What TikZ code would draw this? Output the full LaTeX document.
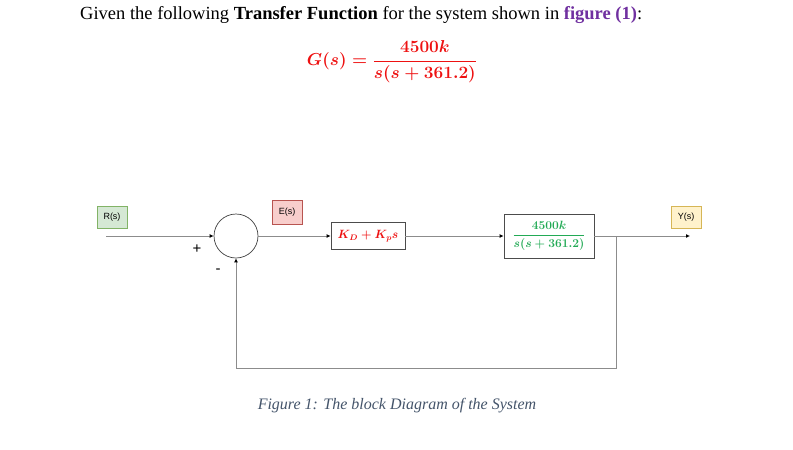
\documentclass[tikz,border=0pt]{standalone}
\usepackage{fontspec}
\usepackage{amsmath}
\setmainfont{Liberation Serif}
\setsansfont{Liberation Sans}
\usetikzlibrary{arrows.meta}
\definecolor{redt}{HTML}{EE1111}
\definecolor{greent}{HTML}{22AA55}
\definecolor{purp}{HTML}{7030A0}
\definecolor{capc}{HTML}{44546A}
\tikzset{
 lbl/.style={draw, minimum width=30pt, minimum height=22pt, font=\sffamily\fontsize{9}{10}\selectfont, inner sep=1pt},
 blk/.style={draw=black!70, fill=white, line width=0.8pt, inner sep=2pt},
 wire/.style={draw=black!45, line width=1pt},
 arr/.style={wire, -{Latex[length=4pt,width=4pt,black]}}
}
\begin{document}
\begin{tikzpicture}[x=1pt,y=-1pt]
\useasboundingbox (0,0) rectangle (793,450);
\node[anchor=west, font=\fontsize{18.5}{20}\selectfont, inner sep=0pt] (title) at (80,15) {Given the following \textbf{Transfer Function} for the system shown in \textcolor{purp}{\textbf{figure (1)}}:};
\node[font=\fontsize{18.5}{20}\selectfont, text=redt] (gs) at (392,62) {$\boldsymbol{G(s)=\dfrac{4500k}{s(s+361.2)}}$};
\node[lbl, fill={rgb,255:red,213;green,232;blue,212}, draw={rgb,255:red,130;green,179;blue,102}] (R) at (112,217) {R(s)};
\node[lbl, fill={rgb,255:red,248;green,206;blue,204}, draw={rgb,255:red,184;green,84;blue,80}, minimum height=24pt] (E) at (287,212) {E(s)};
\node[lbl, fill={rgb,255:red,255;green,242;blue,204}, draw={rgb,255:red,214;green,182;blue,86}] (Y) at (686,217) {Y(s)};
\node[draw=black!75, circle, minimum size=44pt, inner sep=0pt, line width=0.7pt] (sum) at (236,236) {};
\node[blk, minimum width=74pt, minimum height=27pt, text=redt, font=\fontsize{12}{14}\selectfont, inner sep=0pt] (C) at (368,236) {$\boldsymbol{K_D+K_ps}$};
\node[blk, minimum width=90pt, minimum height=44pt, text=greent, font=\fontsize{12.5}{14}\selectfont, inner sep=0pt] (P) at (549,236) {$\boldsymbol{\dfrac{4500k}{s(s+361.2)}}$};
\coordinate (in) at (106,236);
\coordinate (out) at (690,236);
\coordinate (br) at (616,236);
\coordinate (b1) at (616,368);
\coordinate (b2) at (236,368);
\draw[arr] (in) -- (sum.west);
\draw[arr] (sum.east) -- (C.west);
\draw[arr] (C.east) -- (P.west);
\draw[arr] (P.east) -- (out);
\draw[wire] (br) -- (b1) -- (b2);
\draw[arr] (b2) -- (sum.south);
\node[font=\sffamily\fontsize{15}{15}\selectfont] (plus) at (197,249) {+};
\node[font=\sffamily\fontsize{15}{15}\selectfont] (minus) at (218,271) {-};
\node[font=\itshape\fontsize{16}{18}\selectfont, text=capc] (cap) at (397,406) {Figure 1: The block Diagram of the System};
\end{tikzpicture}
\end{document}
